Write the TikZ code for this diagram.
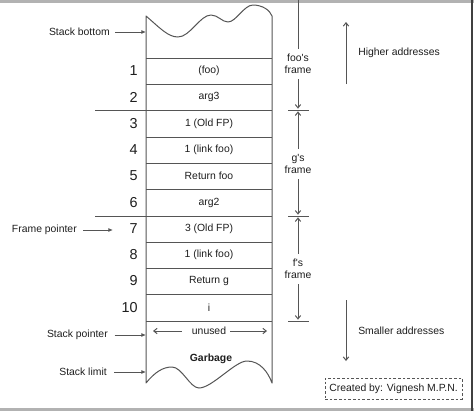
\documentclass[tikz,border=0pt]{standalone}
\usepackage{fontspec}
\setmainfont{Liberation Sans}
\usetikzlibrary{arrows.meta}
\definecolor{lc}{HTML}{555555}
\definecolor{tc}{HTML}{1E1E1E}
\begin{document}
\begin{tikzpicture}[x=0.75pt,y=-0.75pt,
 ln/.style={draw=lc,line width=0.75pt},
 lbl/.style={font=\fontsize{7.8}{9}\selectfont,text=tc,inner sep=0pt},
 num/.style={font=\fontsize{10.8}{13}\selectfont,text=tc,inner sep=0pt,anchor=east},
 ptr/.style={ln,-{Latex[length=3.5pt,width=3pt]}},
 oarr/.style={ln,-{Straight Barb[length=2.5pt,width=4pt]}},
 frm/.style={lbl,align=center,inner ysep=4pt},
]
\useasboundingbox (0,0) rectangle (474,411);
\fill[white] (0,0) rectangle (474,411);
% border
\fill[black!30] (0,0) rectangle (474,2.5);
\fill[black!30] (0,408) rectangle (474,411);
\fill[black!75] (471,0) rectangle (473.3,411);

% stack outline
\draw[ln,line join=round] (146,321) -- (146,16)
  .. controls (160,28) and (168,37) .. (178,37)
  .. controls (190,37) and (200,15) .. (211,15)
  .. controls (218,15) and (222,22) .. (228,22)
  .. controls (236,22) and (244,5) .. (253,5)
  .. controls (262,5) and (270,10) .. (272,16)
  -- (272,383)
  .. controls (268,372) and (260,361) .. (247,361)
  .. controls (235,361) and (212,388) .. (199,388)
  .. controls (190,388) and (182,367) .. (172,367)
  .. controls (163,367) and (155,372) .. (146,383)
  -- (146,321);

% row lines
\foreach \y in {58,84,137,163,189,242,268,294,321}
  \draw[ln] (146,\y) -- (272,\y);
\draw[ln] (95,110) -- (272,110);
\draw[ln] (95,216) -- (272,216);

% cells
\foreach \i/\y/\t in {1/71/(foo),2/97/arg3,3/123.5/1 (Old FP),4/150/1 (link foo),5/176/Return foo,6/202.5/arg2,7/229/3 (Old FP),8/255/1 (link foo),9/281/Return g,10/307.5/i}{
  \node[lbl] (c\i) at (209,\y) {\t};
  \node[num] (n\i) at (138,\y) {\i};
}

% unused
\node[lbl] (un) at (209,331) {unused};
\coordinate (ul) at (153,331);
\coordinate (ur) at (267,331);
\draw[oarr,shorten <=7.5pt] (un.west) -- (ul);
\draw[oarr,shorten <=3pt] (un.east) -- (ur);
\node[lbl,font=\fontsize{7.8}{9}\selectfont\bfseries] (gb) at (211,359) {Garbage};

% left labels
\node[lbl,anchor=east] (sb) at (110,32) {Stack bottom};
\coordinate (sbt) at (146,32);
\draw[ptr,shorten <=3.75pt] (sb.east) -- (sbt);
\node[lbl,anchor=east] (fp) at (77,230) {Frame pointer};
\coordinate (fpt) at (113,230);
\draw[ptr,shorten <=4.5pt] (fp.east) -- (fpt);
\node[lbl,anchor=east] (sp) at (108,335) {Stack pointer};
\coordinate (spt) at (146,335);
\draw[ptr,shorten <=5pt] (sp.east) -- (spt);
\node[lbl,anchor=east] (sl) at (107,372) {Stack limit};
\coordinate (slt) at (146,372);
\draw[ptr,shorten <=5.5pt] (sl.east) -- (slt);

% frames
\coordinate (ftop) at (298,0);
\coordinate (t1) at (298,110);
\coordinate (t2) at (298,216);
\coordinate (t3) at (298,321);
\foreach \t in {t1,t2,t3} \draw[ln] (\t) +(-10,0) -- +(11,0);
\node[frm] (ff) at (298,64) {foo\textquotesingle s\\frame};
\draw[ln] (ftop) -- (ff.north);
\draw[oarr,shorten >=1pt] (ff.south) -- (t1);
\node[frm] (gf) at (298,164) {g\textquotesingle s\\frame};
\draw[oarr,shorten >=1pt] (gf.north) -- (t1);
\draw[oarr,shorten >=1pt] (gf.south) -- (t2);
\node[frm] (sf) at (298,269) {f\textquotesingle s\\frame};
\draw[oarr,shorten >=1pt] (sf.north) -- (t2);
\draw[oarr,shorten >=1pt] (sf.south) -- (t3);

% addresses
\coordinate (h1) at (346,84);
\coordinate (h2) at (346,22);
\draw[oarr] (h1) -- (h2);
\node[lbl,anchor=west] (hi) at (358,53) {Higher addresses};
\coordinate (s1) at (346,300);
\coordinate (s2) at (346,361);
\draw[oarr] (s1) -- (s2);
\node[lbl,anchor=west] (sm) at (358,331) {Smaller addresses};

% credit
\node[lbl,draw=lc,line width=0.75pt,dash pattern=on 2pt off 1.5pt,minimum width=102.75pt,minimum height=15.75pt] (cb) at (393.5,388.5) {Created by: Vignesh M.P.N.};
\end{tikzpicture}
\end{document}
